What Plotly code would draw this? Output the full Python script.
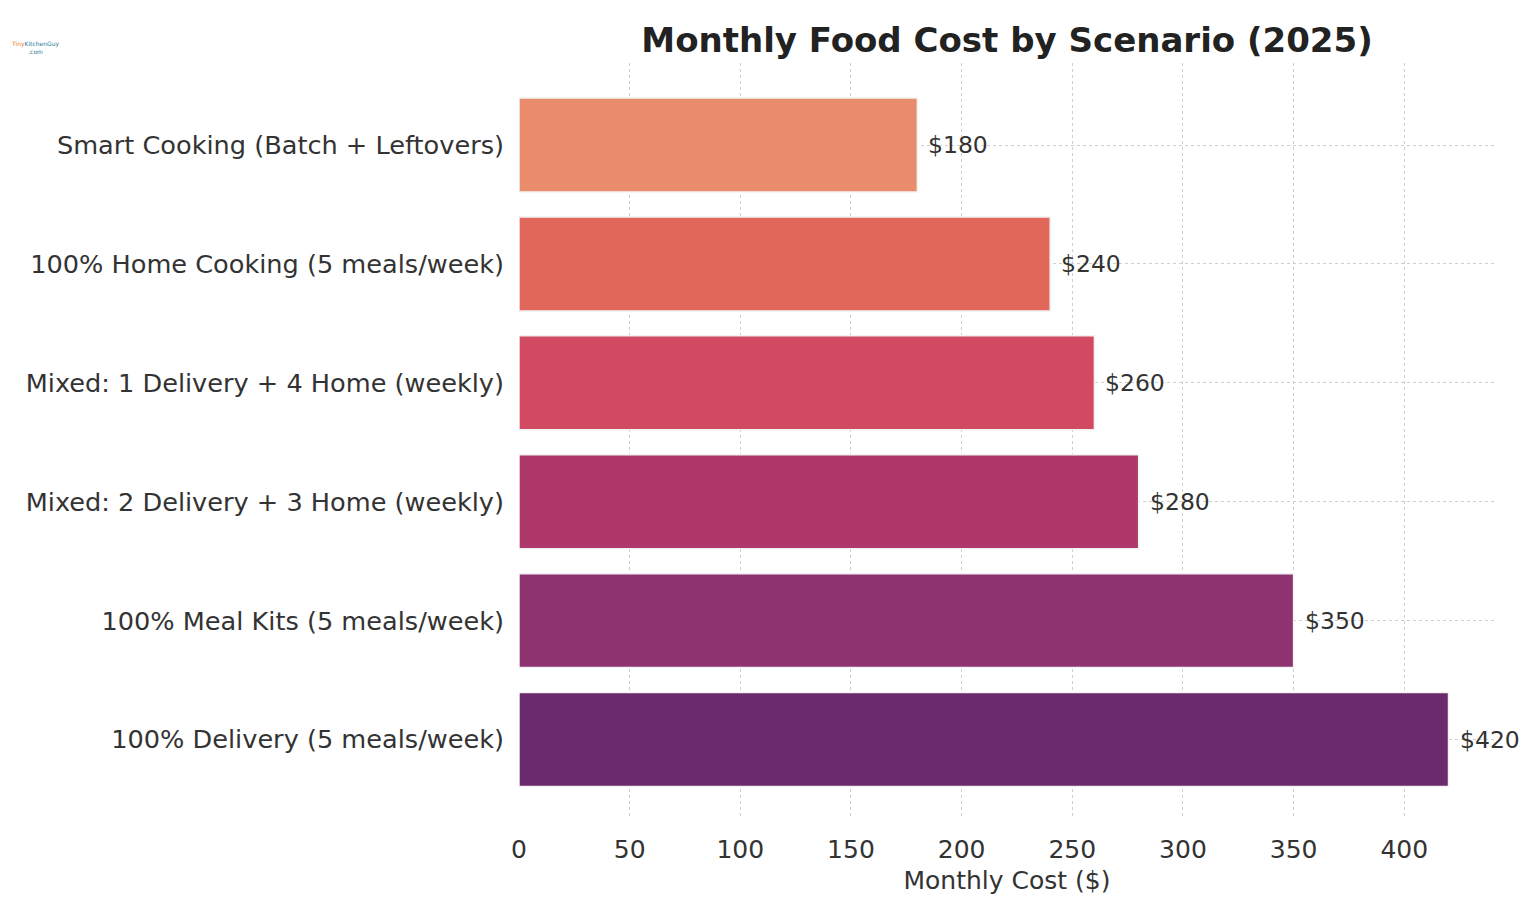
import plotly.graph_objects as go

categories = [
    "Smart Cooking (Batch + Leftovers)",
    "100% Home Cooking (5 meals/week)",
    "Mixed: 1 Delivery + 4 Home (weekly)",
    "Mixed: 2 Delivery + 3 Home (weekly)",
    "100% Meal Kits (5 meals/week)",
    "100% Delivery (5 meals/week)",
]
costs = [180, 240, 260, 280, 350, 420]
value_labels = ["$180", "$240", "$260", "$280", "$350", "$420"]
colors = ["#E98C6B", "#E1675A", "#D14A61", "#AD3869", "#8E3370", "#6B2A6B"]
tick_vals = [0, 50, 100, 150, 200, 250, 300, 350, 400]

FONT = "DejaVu Sans"
L, R, T, B = 519, 1495, 63, 818

fig = go.Figure()
fig.add_trace(go.Bar(
    y=categories,
    x=costs,
    orientation="h",
    width=0.79,
    marker=dict(color=colors, line=dict(color="#f2f2f2", width=1.5)),
    hoverinfo="skip",
))

annotations = [
    dict(x=v, y=c, xref="x", yref="y", text=t, showarrow=False,
         xanchor="left", yanchor="middle", xshift=9, yshift=0,
         font=dict(family=FONT, size=23.5, color="#333333"))
    for c, v, t in zip(categories, costs, value_labels)
]
annotations.append(dict(
    text="<span style='color:#e67e22'>Tiny</span><span style='color:#2c7a9b'>KitchenGuy</span><br><span style='color:#2c7a9b'>.com</span>",
    x=(35 - L) / (R - L), y=(B - 47) / (B - T), xref="paper", yref="paper",
    xanchor="center", yanchor="middle", showarrow=False,
    font=dict(family=FONT, size=6),
))

fig.update_layout(
    width=1536, height=922,
    margin=dict(l=L, r=1536 - R, t=T, b=922 - B),
    paper_bgcolor="white",
    plot_bgcolor="white",
    showlegend=False,
    font=dict(family=FONT, color="#333333"),
    title=dict(
        text="<b>Monthly Food Cost by Scenario (2025)</b>",
        x=(L + R) / 2 / 1536, xanchor="center",
        y=1 - 40 / 922, yanchor="middle",
        font=dict(family=FONT, size=34, color="#222222"),
    ),
    xaxis=dict(
        range=[0, 441],
        tickvals=tick_vals,
        showgrid=True,
        gridcolor="#cfcfcf",
        griddash="dot",
        gridwidth=1,
        zeroline=False,
        showline=False,
        ticks="",
        ticklabelstandoff=14,
        tickfont=dict(family=FONT, size=25, color="#333333"),
        title=dict(text="Monthly Cost ($)", font=dict(family=FONT, size=25, color="#333333"), standoff=8),
    ),
    yaxis=dict(
        autorange=False,
        range=[5.66, -0.69],
        showgrid=True,
        gridcolor="#cfcfcf",
        griddash="dot",
        gridwidth=1,
        zeroline=False,
        showline=False,
        ticks="",
        ticklabelstandoff=14,
        tickfont=dict(family=FONT, size=25.6, color="#333333"),
    ),
    annotations=annotations,
)

fig.write_html("out.html")
